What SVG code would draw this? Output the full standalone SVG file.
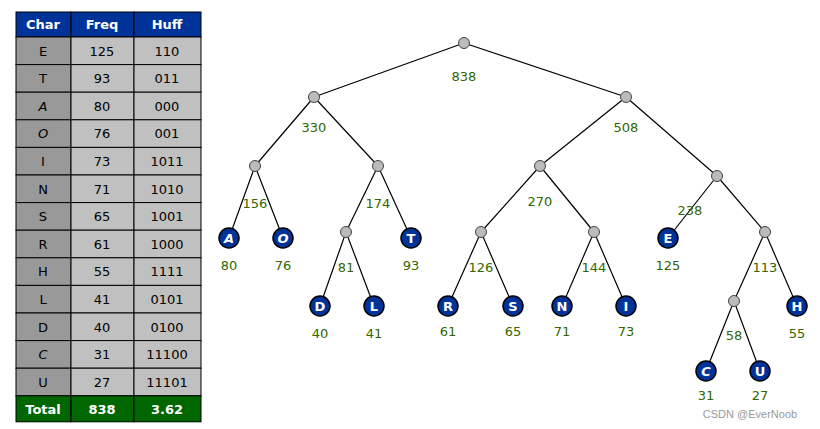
<svg xmlns="http://www.w3.org/2000/svg" width="820" height="429" viewBox="0 0 820 429">
<style>
text{font-family:"DejaVu Sans","Liberation Sans",sans-serif;text-anchor:middle}
.c{fill:#999;stroke:#000;stroke-width:1}
.f{fill:#c0c0c0;stroke:#000;stroke-width:1}
.h{fill:#003399;stroke:#000}
.g{fill:#006600;stroke:#000}
.ht{fill:#fff;font-size:13px;font-weight:bold}
.tt{fill:#000;font-size:13px}
.in{fill:#bbb;stroke:#444;stroke-width:1}
.lf{fill:#003399;stroke:#000;stroke-width:1.5}
.lt{fill:#fff;font-size:13px;font-weight:bold}
.n{fill:#336600;font-size:13px}
.e{stroke:#000;stroke-width:1.2;fill:none}
.w{fill:#999;font-size:11px;font-family:"Liberation Sans",sans-serif}
</style>
<g id="table">
<rect class="h" x="16" y="12" width="55" height="25"/><rect class="h" x="71" y="12" width="63" height="25"/><rect class="h" x="134" y="12" width="67" height="25"/>
<text class="ht" x="43" y="29">Char</text><text class="ht" x="102" y="29">Freq</text><text class="ht" x="167" y="29">Huff</text>
<g id="rows">
<rect class="c" x="16" y="37" width="55" height="27.6"/><rect class="f" x="71" y="37" width="63" height="27.6"/><rect class="f" x="134" y="37" width="67" height="27.6"/>
<rect class="c" x="16" y="64.6" width="55" height="27.6"/><rect class="f" x="71" y="64.6" width="63" height="27.6"/><rect class="f" x="134" y="64.6" width="67" height="27.6"/>
<rect class="c" x="16" y="92.2" width="55" height="27.6"/><rect class="f" x="71" y="92.2" width="63" height="27.6"/><rect class="f" x="134" y="92.2" width="67" height="27.6"/>
<rect class="c" x="16" y="119.8" width="55" height="27.6"/><rect class="f" x="71" y="119.8" width="63" height="27.6"/><rect class="f" x="134" y="119.8" width="67" height="27.6"/>
<rect class="c" x="16" y="147.4" width="55" height="27.6"/><rect class="f" x="71" y="147.4" width="63" height="27.6"/><rect class="f" x="134" y="147.4" width="67" height="27.6"/>
<rect class="c" x="16" y="175" width="55" height="27.6"/><rect class="f" x="71" y="175" width="63" height="27.6"/><rect class="f" x="134" y="175" width="67" height="27.6"/>
<rect class="c" x="16" y="202.6" width="55" height="27.6"/><rect class="f" x="71" y="202.6" width="63" height="27.6"/><rect class="f" x="134" y="202.6" width="67" height="27.6"/>
<rect class="c" x="16" y="230.2" width="55" height="27.6"/><rect class="f" x="71" y="230.2" width="63" height="27.6"/><rect class="f" x="134" y="230.2" width="67" height="27.6"/>
<rect class="c" x="16" y="257.8" width="55" height="27.6"/><rect class="f" x="71" y="257.8" width="63" height="27.6"/><rect class="f" x="134" y="257.8" width="67" height="27.6"/>
<rect class="c" x="16" y="285.4" width="55" height="27.6"/><rect class="f" x="71" y="285.4" width="63" height="27.6"/><rect class="f" x="134" y="285.4" width="67" height="27.6"/>
<rect class="c" x="16" y="313" width="55" height="27.6"/><rect class="f" x="71" y="313" width="63" height="27.6"/><rect class="f" x="134" y="313" width="67" height="27.6"/>
<rect class="c" x="16" y="340.6" width="55" height="27.6"/><rect class="f" x="71" y="340.6" width="63" height="27.6"/><rect class="f" x="134" y="340.6" width="67" height="27.6"/>
<rect class="c" x="16" y="368.2" width="55" height="27.6"/><rect class="f" x="71" y="368.2" width="63" height="27.6"/><rect class="f" x="134" y="368.2" width="67" height="27.6"/>
</g>
<g class="tt">
<text class="tt" x="43" y="55.5">E</text><text class="tt" x="102" y="55.5">125</text><text class="tt" x="167" y="55.5">110</text>
<text class="tt" x="43" y="83.1">T</text><text class="tt" x="102" y="83.1">93</text><text class="tt" x="167" y="83.1">011</text>
<text class="tt" x="43" y="110.7" font-style="italic">A</text><text class="tt" x="102" y="110.7">80</text><text class="tt" x="167" y="110.7">000</text>
<text class="tt" x="43" y="138.3" font-style="italic">O</text><text class="tt" x="102" y="138.3">76</text><text class="tt" x="167" y="138.3">001</text>
<text class="tt" x="43" y="165.9">I</text><text class="tt" x="102" y="165.9">73</text><text class="tt" x="167" y="165.9">1011</text>
<text class="tt" x="43" y="193.5">N</text><text class="tt" x="102" y="193.5">71</text><text class="tt" x="167" y="193.5">1010</text>
<text class="tt" x="43" y="221.1">S</text><text class="tt" x="102" y="221.1">65</text><text class="tt" x="167" y="221.1">1001</text>
<text class="tt" x="43" y="248.7">R</text><text class="tt" x="102" y="248.7">61</text><text class="tt" x="167" y="248.7">1000</text>
<text class="tt" x="43" y="276.3">H</text><text class="tt" x="102" y="276.3">55</text><text class="tt" x="167" y="276.3">1111</text>
<text class="tt" x="43" y="303.9">L</text><text class="tt" x="102" y="303.9">41</text><text class="tt" x="167" y="303.9">0101</text>
<text class="tt" x="43" y="331.5">D</text><text class="tt" x="102" y="331.5">40</text><text class="tt" x="167" y="331.5">0100</text>
<text class="tt" x="43" y="359.1" font-style="italic">C</text><text class="tt" x="102" y="359.1">31</text><text class="tt" x="167" y="359.1">11100</text>
<text class="tt" x="43" y="386.7">U</text><text class="tt" x="102" y="386.7">27</text><text class="tt" x="167" y="386.7">11101</text>
</g>
<rect class="g" x="16" y="395.8" width="55" height="26"/><rect class="g" x="71" y="395.8" width="63" height="26"/><rect class="g" x="134" y="395.8" width="67" height="26"/>
<text class="ht" x="43" y="413.5">Total</text><text class="ht" x="102" y="413.5">838</text><text class="ht" x="167" y="413.5">3.62</text>
</g>
<g id="edges" class="e">
<path class="e" d="M464 43L314 97M464 43L626 97M314 97L255 166M314 97L378 166M626 97L540 166M626 97L717 176M255 166L229 238M255 166L283 238M378 166L346 232M378 166L411 238M346 232L320 306M346 232L374 306M540 166L481 232M540 166L594 232M481 232L448 306M481 232L513 306M594 232L562 306M594 232L626 306M717 176L668 238M717 176L765 232M765 232L734 301M765 232L797 306M734 301L706 371M734 301L760 371"/>
</g>
<g id="internal">
<circle class="in" cx="464" cy="43" r="5.5"/><circle class="in" cx="314" cy="97" r="5.5"/><circle class="in" cx="626" cy="97" r="5.5"/>
<circle class="in" cx="255" cy="166" r="5.5"/><circle class="in" cx="378" cy="166" r="5.5"/><circle class="in" cx="540" cy="166" r="5.5"/><circle class="in" cx="717" cy="176" r="5.5"/>
<circle class="in" cx="346" cy="232" r="5.5"/><circle class="in" cx="481" cy="232" r="5.5"/><circle class="in" cx="594" cy="232" r="5.5"/><circle class="in" cx="765" cy="232" r="5.5"/><circle class="in" cx="734" cy="301" r="5.5"/>
</g>
<g id="internal-labels">
<text class="n" x="464" y="81">838</text><text class="n" x="314" y="132">330</text><text class="n" x="626" y="132">508</text>
<text class="n" x="255" y="208">156</text><text class="n" x="378" y="208">174</text><text class="n" x="540" y="206">270</text><text class="n" x="690" y="215">238</text>
<text class="n" x="346" y="272">81</text><text class="n" x="481" y="272">126</text><text class="n" x="594" y="272">144</text><text class="n" x="765" y="272">113</text><text class="n" x="734" y="340">58</text>
</g>
<g id="leaves">
<g id="A"><circle class="lf" cx="229" cy="238" r="10"/><text class="lt" x="229" y="243" font-style="italic">A</text><text class="n" x="229" y="270">80</text></g>
<g id="O"><circle class="lf" cx="283" cy="238" r="10"/><text class="lt" x="283" y="243" font-style="italic">O</text><text class="n" x="283" y="270">76</text></g>
<g id="T"><circle class="lf" cx="411" cy="238" r="10"/><text class="lt" x="411" y="243">T</text><text class="n" x="411" y="270">93</text></g>
<g id="E"><circle class="lf" cx="668" cy="238" r="10"/><text class="lt" x="668" y="243">E</text><text class="n" x="668" y="270">125</text></g>
<g id="D"><circle class="lf" cx="320" cy="306" r="10"/><text class="lt" x="320" y="311">D</text><text class="n" x="320" y="338">40</text></g>
<g id="L"><circle class="lf" cx="374" cy="306" r="10"/><text class="lt" x="374" y="311">L</text><text class="n" x="374" y="338">41</text></g>
<g id="R"><circle class="lf" cx="448" cy="306" r="10"/><text class="lt" x="448" y="311">R</text><text class="n" x="448" y="336">61</text></g>
<g id="S"><circle class="lf" cx="513" cy="306" r="10"/><text class="lt" x="513" y="311">S</text><text class="n" x="513" y="336">65</text></g>
<g id="N"><circle class="lf" cx="562" cy="306" r="10"/><text class="lt" x="562" y="311">N</text><text class="n" x="562" y="336">71</text></g>
<g id="I"><circle class="lf" cx="626" cy="306" r="10"/><text class="lt" x="626" y="311">I</text><text class="n" x="626" y="336">73</text></g>
<g id="H"><circle class="lf" cx="797" cy="306" r="10"/><text class="lt" x="797" y="311">H</text><text class="n" x="797" y="338">55</text></g>
<g id="C"><circle class="lf" cx="706" cy="371" r="10"/><text class="lt" x="706" y="376" font-style="italic">C</text><text class="n" x="706" y="400">31</text></g>
<g id="U"><circle class="lf" cx="760" cy="371" r="10"/><text class="lt" x="760" y="376">U</text><text class="n" x="760" y="400">27</text></g>
</g>
<text class="w" x="750" y="418">CSDN @EverNoob</text>
</svg>
